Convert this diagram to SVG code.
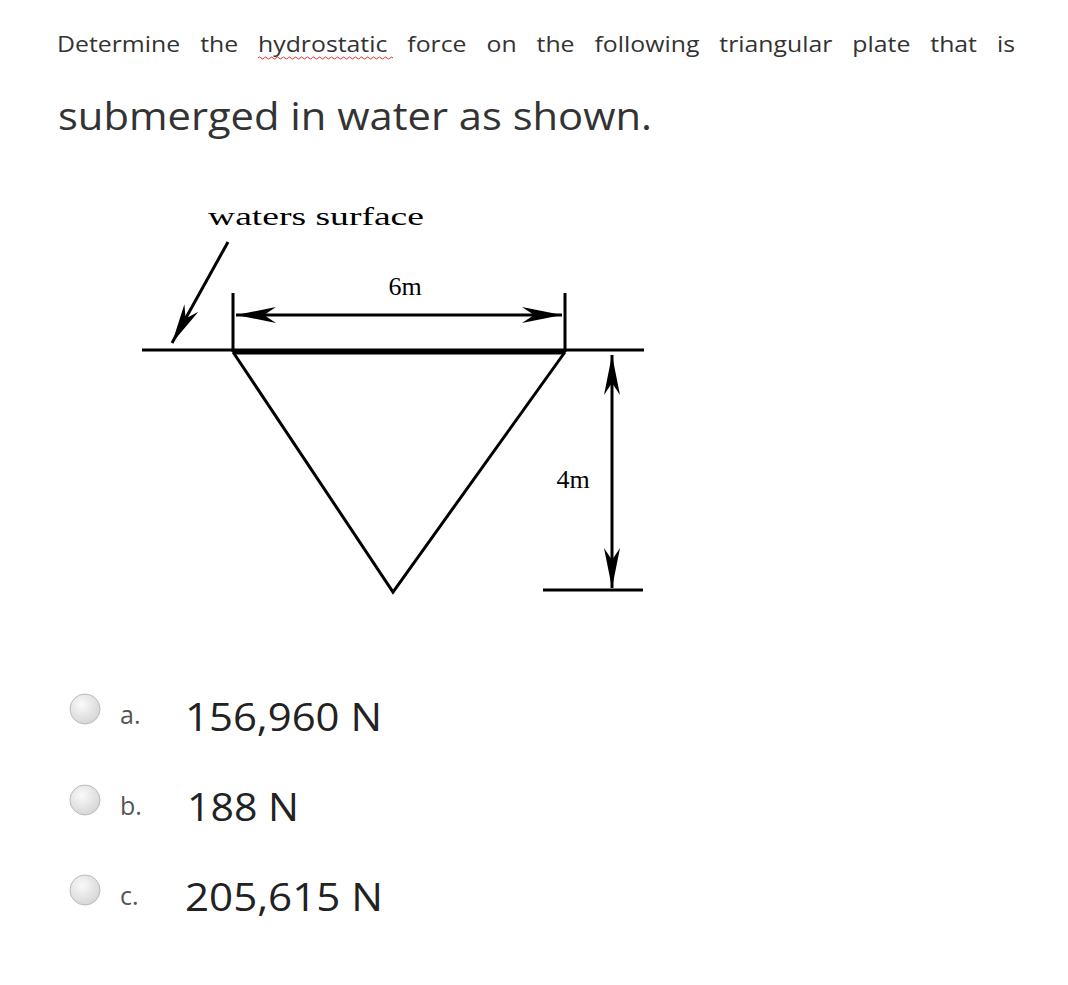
<svg xmlns="http://www.w3.org/2000/svg" width="1068" height="985" viewBox="0 0 1068 985">
<defs>
<marker id="ah" viewBox="0 0 40 16" refX="40" refY="8" markerWidth="40" markerHeight="16" markerUnits="userSpaceOnUse" orient="auto-start-reverse"><path d="M0,0 L40,8 L0,16 L12,8 Z" fill="#000"/></marker>
<radialGradient id="rg" cx="0.4" cy="0.35" r="0.7"><stop offset="0" stop-color="#fafafa"/><stop offset="1" stop-color="#d4d4d4"/></radialGradient>
</defs>
<style>
.q{font-family:"Open Sans",sans-serif;fill:#333}
.s{font-family:"Liberation Serif",serif;fill:#000;font-size:26px}
.l{font-family:"Open Sans",sans-serif;fill:#555;font-size:25px}
.v{font-family:"Open Sans",sans-serif;fill:#222;font-size:38px}
.ln{stroke:#000;fill:none}
</style>
<rect width="1068" height="985" fill="#fff"/>
<text class="q" x="57" y="52" font-size="22" word-spacing="12" textLength="958" lengthAdjust="spacingAndGlyphs">Determine the hydrostatic force on the following triangular plate that is</text>
<path d="M258,58 q1.5,-2 3,0 t3,0 t3,0 t3,0 t3,0 t3,0 t3,0 t3,0 t3,0 t3,0 t3,0 t3,0 t3,0 t3,0 t3,0 t3,0 t3,0 t3,0 t3,0 t3,0 t3,0 t3,0 t3,0 t3,0 t3,0 t3,0 t3,0 t3,0 t3,0 t3,0 t3,0 t3,0 t3,0 t3,0 t3,0 t3,0 t3,0 t3,0 t3,0 t3,0 t3,0 t3,0 t3,0 t3,0 t3,0" stroke="#d33" stroke-width="1" fill="none"/>
<text class="q" x="58" y="130" font-size="38" textLength="594" lengthAdjust="spacingAndGlyphs">submerged in water as shown.</text>
<g id="figure">
<text class="s" x="208" y="225" textLength="216" lengthAdjust="spacingAndGlyphs">waters surface</text>
<line class="ln" x1="142" y1="350" x2="644" y2="350" stroke-width="3"/>
<line class="ln" x1="233" y1="352" x2="565" y2="352" stroke-width="5"/>
<polyline class="ln" points="233,352 393,592 565,352" stroke-width="3"/>
<line class="ln" x1="233" y1="293" x2="233" y2="352" stroke-width="3"/>
<line class="ln" x1="565" y1="293" x2="565" y2="352" stroke-width="3"/>
<line class="ln" x1="543" y1="590" x2="643" y2="590" stroke-width="3"/>
<text class="s" x="405" y="295" text-anchor="middle">6m</text>
<text class="s" x="573" y="488" text-anchor="middle">4m</text>
</g>
<g id="connectors">
<line class="ln" x1="236" y1="315" x2="562" y2="315" stroke-width="3" marker-start="url(#ah)" marker-end="url(#ah)"/>
<line class="ln" x1="612" y1="355" x2="612" y2="588" stroke-width="3" marker-start="url(#ah)" marker-end="url(#ah)"/>
<line class="ln" x1="228" y1="242" x2="172" y2="343" stroke-width="3" marker-end="url(#ah)"/>
</g>
<g id="options">
<circle cx="85" cy="709" r="15" fill="url(#rg)" stroke="#bbb"/>
<circle cx="85" cy="800" r="15" fill="url(#rg)" stroke="#bbb"/>
<circle cx="85" cy="890" r="15" fill="url(#rg)" stroke="#bbb"/>
<text class="l" x="120" y="724">a.</text>
<text class="l" x="120" y="815">b.</text>
<text class="l" x="120" y="905">c.</text>
<text class="v" x="185" y="731" textLength="197" lengthAdjust="spacingAndGlyphs">156,960 N</text>
<text class="v" x="187" y="821" textLength="112" lengthAdjust="spacingAndGlyphs">188 N</text>
<text class="v" x="185" y="911" textLength="198" lengthAdjust="spacingAndGlyphs">205,615 N</text>
</g>
</svg>
